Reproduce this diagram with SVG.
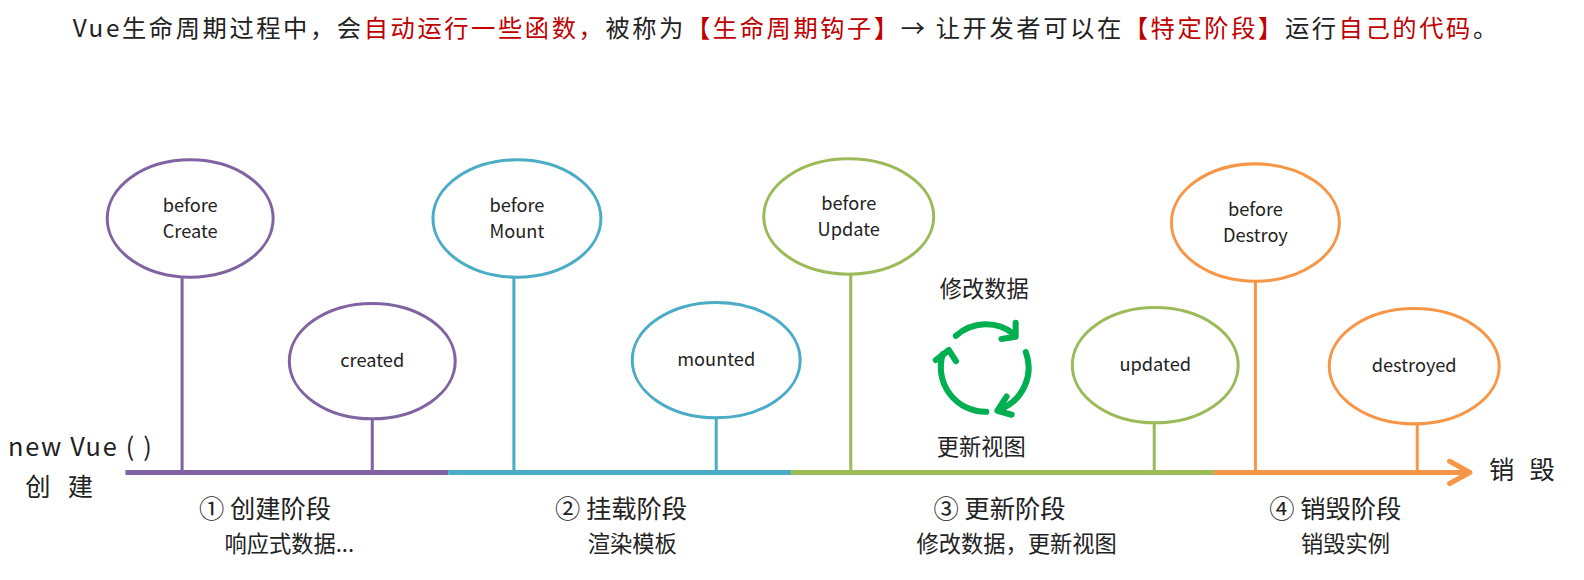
<svg xmlns="http://www.w3.org/2000/svg" width="1584" height="580" viewBox="0 0 1584 580">
<style>
text{font-family:"Noto Sans CJK SC","Noto Sans",sans-serif;fill:#222}
.n{font-size:18px;text-anchor:middle}
.e{fill:#fff;stroke-width:3}
.s{stroke-width:3;fill:none}
.p{stroke:#8064a2}.t{stroke:#4bacc6}.g{stroke:#9bbb59}.o{stroke:#f79646}
.r{fill:#c00000}
.ph{font-size:25px;text-anchor:middle}
.sub{font-size:22px;text-anchor:middle}
</style>
<g transform="scale(1.0116)">
<text x="72" y="37" font-size="24" textLength="1408" lengthAdjust="spacing">Vue生命周期过程中，会<tspan class="r">自动运行一些函数，</tspan>被称为<tspan class="r">【生命周期钩子】</tspan>→ 让开发者可以在<tspan class="r">【特定阶段】</tspan>运行<tspan class="r">自己的代码</tspan>。</text>
<g id="connectors">
<line x1="180" y1="275" x2="180" y2="467" class="s p"/>
<line x1="368" y1="414" x2="368" y2="467" class="s p"/>
<line x1="508" y1="274" x2="508" y2="467" class="s t"/>
<line x1="708" y1="413" x2="708" y2="467" class="s t"/>
<line x1="841" y1="271" x2="841" y2="467" class="s g"/>
<line x1="1141" y1="418" x2="1141" y2="467" class="s g"/>
<line x1="1241" y1="278" x2="1241" y2="467" class="s o"/>
<line x1="1401" y1="419" x2="1401" y2="467" class="s o"/>
<line x1="124" y1="467" x2="443" y2="467" stroke="#8064a2" stroke-width="5"/>
<line x1="443" y1="467" x2="782" y2="467" stroke="#4bacc6" stroke-width="5"/>
<line x1="782" y1="467" x2="1200" y2="467" stroke="#9bbb59" stroke-width="5"/>
<line x1="1200" y1="467" x2="1451" y2="467" stroke="#f79646" stroke-width="5"/>
<polyline points="1433,456 1453,467 1433,478" fill="none" stroke="#f79646" stroke-width="5" stroke-linecap="round" stroke-linejoin="round"/>
</g>
<g id="beforeCreate"><ellipse cx="188" cy="216" rx="82" ry="58" class="e p"/><text x="188" y="210" class="n">before</text><text x="188" y="235" class="n">Create</text></g>
<g id="created"><ellipse cx="368" cy="357" rx="82" ry="57" class="e p"/><text x="368" y="363" class="n">created</text></g>
<g id="beforeMount"><ellipse cx="511" cy="216" rx="83" ry="58" class="e t"/><text x="511" y="210" class="n">before</text><text x="511" y="235" class="n">Mount</text></g>
<g id="mounted"><ellipse cx="708" cy="356" rx="83" ry="57" class="e t"/><text x="708" y="362" class="n">mounted</text></g>
<g id="beforeUpdate"><ellipse cx="839" cy="214" rx="84" ry="57" class="e g"/><text x="839" y="208" class="n">before</text><text x="839" y="233" class="n">Update</text></g>
<g id="updated"><ellipse cx="1142" cy="361" rx="82" ry="57" class="e g"/><text x="1142" y="367" class="n">updated</text></g>
<g id="beforeDestroy"><ellipse cx="1241" cy="220" rx="83" ry="58" class="e o"/><text x="1241" y="214" class="n">before</text><text x="1241" y="239" class="n">Destroy</text></g>
<g id="destroyed"><ellipse cx="1398" cy="362" rx="84" ry="57" class="e o"/><text x="1398" y="368" class="n">destroyed</text></g>
<g id="cycle" fill="none" stroke="#00b050" stroke-width="6" stroke-linecap="round" stroke-linejoin="round">
<path d="M945,332 A44,44 0 0 1 1002,330"/><polyline points="990,335 1004,333 1004,319"/>
<path d="M1014,348 A44,44 0 0 1 990,404"/><polyline points="995,392 986,406 1000,410"/>
<path d="M975,407 A44,44 0 0 1 932,350"/><polyline points="925,356 938,346 945,357"/>
</g>
<text x="973" y="294" font-size="22" text-anchor="middle">修改数据</text>
<text x="970" y="450" font-size="22" text-anchor="middle">更新视图</text>
<text x="8" y="451" font-size="25" textLength="142" lengthAdjust="spacing">new Vue ( )</text>
<text x="25" y="490" font-size="25" textLength="67" lengthAdjust="spacing">创 建</text>
<text x="1472" y="474" font-size="25" textLength="65" lengthAdjust="spacing">销 毁</text>
<text x="262" y="512" class="ph">① 创建阶段</text>
<text x="286" y="546" class="sub">响应式数据...</text>
<text x="614" y="512" class="ph">② 挂载阶段</text>
<text x="625" y="546" class="sub">渲染模板</text>
<text x="988" y="512" class="ph">③ 更新阶段</text>
<text x="1005" y="546" class="sub">修改数据，更新视图</text>
<text x="1320" y="512" class="ph">④ 销毁阶段</text>
<text x="1330" y="546" class="sub">销毁实例</text>
</g>
</svg>
